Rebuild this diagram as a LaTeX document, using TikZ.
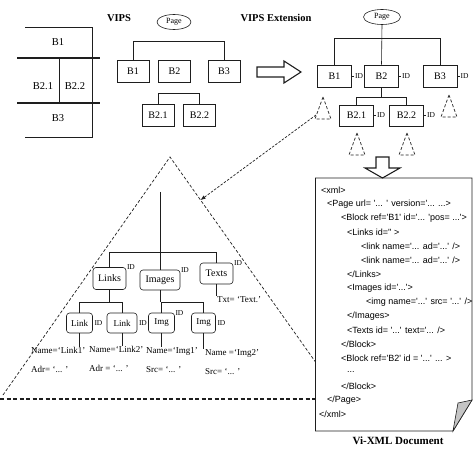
\documentclass[tikz,border=0pt]{standalone}
\usepackage{fontspec}
\setmainfont{Liberation Serif}
\newfontfamily\xmlfont{Liberation Sans}
\usepackage{tikz}
\usetikzlibrary{arrows.meta,positioning,calc,shapes.geometric}
\definecolor{ink}{HTML}{1E1E1E}
\definecolor{fold}{HTML}{C4C4C4}
\tikzset{
  vbox/.style={draw=ink,line width=0.6pt,inner sep=0pt,minimum width=32pt,
    minimum height=22pt,font=\fontsize{10}{12}\selectfont},
  xbox/.style={vbox,minimum width=34pt},
  rbox/.style={vbox,rounded corners=3pt,minimum width=33pt},
  lbox/.style={rbox,minimum width=26pt,minimum height=20pt,font=\fontsize{9}{11}\selectfont},
  pagenode/.style={ellipse,draw=ink,line width=0.6pt,inner sep=0pt,minimum width=34pt,
    minimum height=15pt,font=\fontsize{8}{9}\selectfont},
  idlab/.style={font=\fontsize{7.5}{8}\selectfont,inner sep=0.5pt},
  attr/.style={font=\fontsize{9}{19}\selectfont,align=left,inner sep=0pt,anchor=north west},
  lay/.style={font=\fontsize{10.5}{12}\selectfont,inner sep=1pt},
  title/.style={font=\fontsize{10.5}{12}\selectfont\bfseries,inner sep=0pt},
  xml/.style={font=\xmlfont\fontsize{9}{10}\selectfont,anchor=west,inner sep=0pt},
  tree/.style={draw=ink,line width=0.6pt},
  subtree/.style={draw=ink,line width=0.7pt,dash pattern=on 3pt off 2pt},
  hollow/.style={draw=ink,line width=1.1pt,fill=white,line join=miter},
  pointer/.style={draw=ink,line width=0.7pt,dash pattern=on 2.5pt off 1.5pt,
    -{Latex[length=5pt,width=4pt]}},
}

\begin{document}
\begin{tikzpicture}[x=1pt,y=-1pt,node distance=2.5pt]
  \useasboundingbox (0,0) rectangle (474,449);
  % --- page layout ---
  \draw[tree] (25,27) -- (92,27) -- (92,137) -- (25,137);
  \draw[tree,line width=2.4pt] (17,58) -- (100,58) (17,103) -- (100,103);
  \draw[tree] (59,58) -- (59,103);
  \node[lay] (l1) at (58,42) {B1};
  \node[lay] (l21) at (43,86) {B2.1};
  \node[lay] (l22) at (75,86) {B2.2};
  \node[lay] (l3) at (58,118) {B3};
  % --- VIPS tree ---
  \node[title] (vips) at (119,18) {VIPS};
  \node[pagenode] (vpg) at (174,22) {Page};
  \node[vbox] (v1) at (133,71) {B1};
  \node[vbox] (v2) at (174.5,71) {B2};
  \node[vbox] (v3) at (224,71) {B3};
  \node[vbox] (v21) at (158,115) {B2.1};
  \node[vbox] (v22) at (199.5,115) {B2.2};
  \coordinate (vbar) at (0,41);
  \coordinate (vsub) at (0,93);
  \draw[tree] (v1.north) |- (vbar -| v3.north) -- (v3.north);
  \draw[tree] (v21.north) |- (vsub -| v22.north) -- (v22.north);
  \draw[hollow] (257,67) -- (284,67) -- (284,61) -- (301,72) -- (284,83) -- (284,77) -- (257,77) -- cycle;
  % --- VIPS extension ---
  \node[title] (ext) at (276,18) {VIPS Extension};
  \node[pagenode,minimum width=37pt] (xpg) at (382,17) {Page};
  \node[xbox] (x1) at (334.5,76) {B1};
  \node[xbox] (x2) at (381.5,76) {B2};
  \node[xbox] (x3) at (440,76) {B3};
  \node[xbox,minimum height=21pt] (x21) at (356.5,115.5) {B2.1};
  \node[xbox,minimum height=21pt] (x22) at (406.5,115.5) {B2.2};
  \foreach \b in {x1,x2,x3,x21,x22}{
    \node[idlab,right=of \b] (\b-id) {ID};
    \draw[tree] (\b.east) -- (\b-id.west);
  }
  \coordinate (xbar) at (0,38);
  \coordinate (xsub) at (0,97);
  \draw[tree] (xpg.south) -- (x2.north);
  \draw[tree] (x1.north) |- (xbar -| x3.north) -- (x3.north);
  \draw[tree] (x2.south) -- (x2.south |- xsub);
  \draw[tree] (x21.north) |- (xsub -| x22.north) -- (x22.north);
  \foreach \x/\y/\n in {323/97/t1,449/95/t3,357/133/t21,407/133/t22}
    \draw[subtree] (\x,\y) coordinate (\n) -- ++(-8,22) -- ++(16,0) -- cycle;
  \draw[hollow] (376,157) -- (389,157) -- (389,168) -- (400,168) -- (382.5,178) -- (365,168) -- (376,168) -- cycle;
  % --- one block, opened up ---
  \coordinate (apex) at (170,157);
  \coordinate (tl) at (3,395);
  \coordinate (tr) at (315.5,362);
  \draw[subtree] (tl) -- (apex) -- (tr);
  \draw[ink,line width=1.5pt,dash pattern=on 4pt off 2.5pt] (0,399) -- (315.5,399);
  \coordinate (t1s) at ($(t1)+(-7,18)$);
  \coordinate (hit) at ($(apex)!0.21!(tr)$);
  \draw[pointer] (t1s) -- (hit);
  \node[rbox] (lks) at (109.5,278.5) {Links};
  \node[rbox,minimum width=40pt,minimum height=20pt] (img) at (160,280) {Images};
  \node[rbox,minimum height=21pt] (txt) at (216.5,273.5) {Texts};
  \coordinate (root) at (160,192);
  \coordinate (cbar) at (0,252);
  \draw[tree] (root) -- (img.north);
  \draw[tree] (lks.north) |- (cbar -| txt.north) -- (txt.north);
  \node[lbox] (lk1) at (79.5,323) {Link};
  \node[lbox,minimum width=30pt] (lk2) at (122,323) {Link};
  \node[lbox] (im1) at (161.5,323) {Img};
  \node[lbox,minimum width=24pt] (im2) at (203.5,323) {Img};
  \coordinate (lbar) at (0,302);
  \draw[tree] (lks.south) -- (lks.south |- lbar);
  \draw[tree] (lk1.north) |- (lbar -| lk2.north) -- (lk2.north);
  \draw[tree] (img.south) -- (img.south |- lbar);
  \draw[tree] (im1.north) |- (lbar -| im2.north) -- (im2.north);
  \foreach \b in {lks,img,txt,im1}
    \node[idlab,anchor=west] (\b-id) at (\b.north east) {ID};
  \foreach \b in {lk1,lk2,im2}
    \node[idlab,right=1pt of \b] (\b-id) {ID};
  \node[attr] (a1) at (31,347) {Name=`Link1'\\Adr= `... '};
  \node[attr] (a2) at (89,346) {Name=`Link2'\\Adr = `... '};
  \node[attr] (a3) at (146,347) {Name=`Img1'\\Src= `... '};
  \node[attr] (a4) at (205,349) {Name =`Img2'\\Src= `... '};
  \node[attr] (a5) at (217,296) {Txt= `Text.'};
  \foreach \b/\a in {lk1/a1,lk2/a2,im1/a3,im2/a4,txt/a5}
    \draw[tree] (\b.south) -- (\b.south |- \a.north);
  % --- the XML document ---
  \draw[tree,line width=0.8pt] (315.5,178) -- (472,178) -- (472,400) -- (453,431) -- (315.5,431) -- cycle;
  \draw[tree,fill=fold] (453,431) -- (458,403) -- (472,400) -- cycle;
  \foreach \x/\t [count=\i] in {321/{<xml>},327/{<Page url= '... ' version='...  ...>},
      341/{<Block ref='B1'  id='... 'pos= ...'>},347/{<Links id='' >},
      361/{<link name='...   ad='...'  />},361/{<link name='...   ad='...'  />},
      347/{</Links>},347/{<Images id='...'>},366/{<img name='...' src= '...' />},
      347/{</Images>},347/{<Texts id= '...' text='...     />},341/{</Block>},
      341/{<Block ref='B2'  id = '...' ...   >},347/{...},341/{</Block>},
      327/{</Page>},319/{</xml>}}
    \node[xml] (xl\i) at (\x,176+14*\i) {\t};
  \node[title,font=\fontsize{11}{13}\selectfont\bfseries] (cap) at (398,441) {Vi-XML Document};
\end{tikzpicture}
\end{document}
